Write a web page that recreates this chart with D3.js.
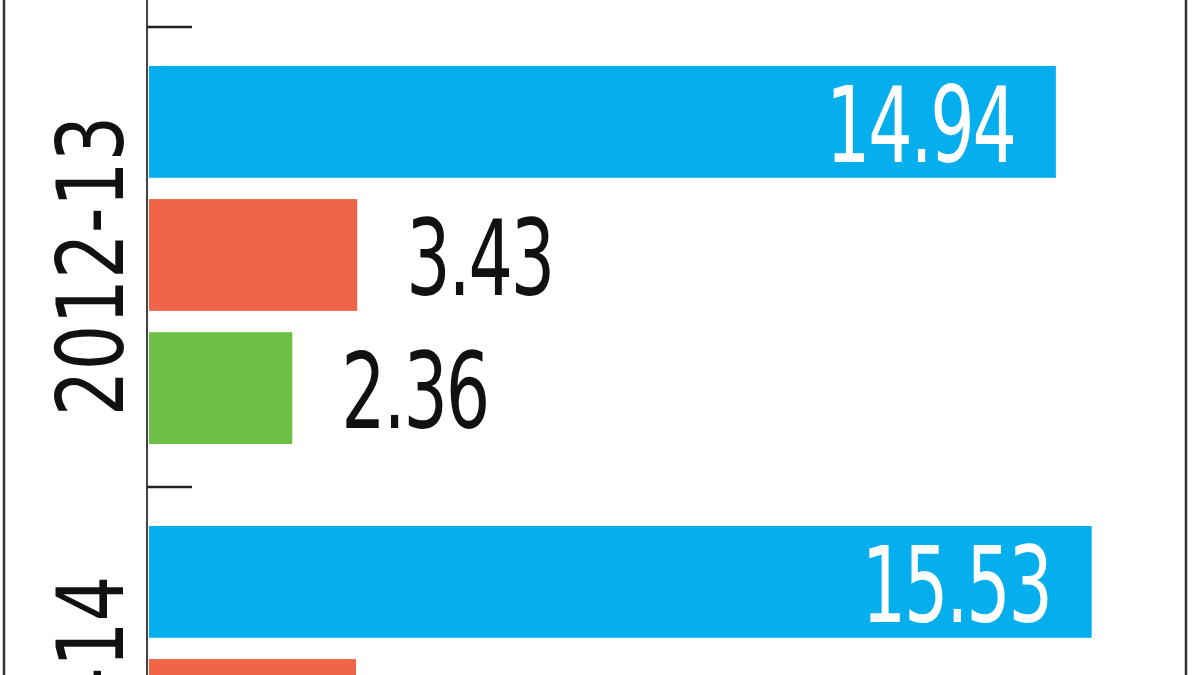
<!DOCTYPE html>
<html>
<head>
<meta charset="utf-8">
<script src="https://cdn.jsdelivr.net/npm/d3@7"></script>
<style>
  html, body { margin: 0; padding: 0; background: #fff; }
  svg { display: block; }
</style>
</head>
<body>
<svg id="chart" width="1200" height="675"></svg>
<script>
// ---- data ----
const categories = ["2012-13", "2013-14"];
const seriesNames = ["s1", "s2", "s3"];
const seriesColors = ["#05aeed", "#f0644a", "#6cbe45"];
const values2012 = [14.94, 3.43, 2.36];
const values2013 = [15.53, 3.41, 2.30];
const allValues = [values2012, values2013];

const W = 1200, H = 675;
const svg = d3.select("#chart");
const FONT = "'Liberation Sans Narrow', 'DejaVu Sans Condensed', 'Liberation Sans', sans-serif";

// scales
const x = d3.scaleLinear().domain([0, 1]).range([149, 149 + 60.7]);
const y = d3.scaleBand().domain(categories).range([27, 27 + 460 * categories.length]).padding(0);
const ys = d3.scaleBand().domain(seriesNames).range([39, 417]).paddingInner(0.16).paddingOuter(0);

// frame lines
svg.append("line").attr("x1", 4).attr("x2", 4).attr("y1", 0).attr("y2", H)
  .attr("stroke", "#333").attr("stroke-width", 2.5);
svg.append("line").attr("x1", 1186).attr("x2", 1186).attr("y1", 0).attr("y2", H)
  .attr("stroke", "#333").attr("stroke-width", 2.5);

// groups
const groups = svg.selectAll("g.cat").data(categories).join("g")
  .attr("class", "cat")
  .attr("transform", d => `translate(0,${y(d)})`);

groups.each(function(cat, ci) {
  const g = d3.select(this);
  const vals = allValues[ci];
  g.selectAll("rect").data(seriesNames).join("rect")
    .attr("x", x(0))
    .attr("y", s => ys(s))
    .attr("width", (s, i) => x(vals[i]) - x(0))
    .attr("height", ys.bandwidth())
    .attr("fill", (s, i) => seriesColors[i]);

  g.selectAll("text.val").data(seriesNames).join("text")
    .attr("class", "val")
    .attr("transform", (s, i) => {
      const tx = i === 0 ? x(vals[i]) - 41 : x(vals[i]) + 49;
      const ty = ys(s) + ys.bandwidth() / 2;
      return `translate(${tx},${ty}) scale(0.74,1)`;
    })
    .attr("dy", "0.38em")
    .attr("text-anchor", (s, i) => i === 0 ? "end" : "start")
    .attr("fill", (s, i) => i === 0 ? "#fff" : "#111")
    .attr("font-family", FONT)
    .attr("font-size", 105)
    .attr("letter-spacing", -3)
    .text((s, i) => vals[i].toFixed(2));

  // category label
  g.append("text")
    .attr("transform", `translate(123,${y.bandwidth() / 2 + 9}) rotate(-90) scale(0.86,1)`)
    .attr("text-anchor", "middle")
    .attr("fill", "#111")
    .attr("font-family", FONT)
    .attr("font-size", 93)
    .text(cat);
});

// axis line
svg.append("line").attr("x1", 147).attr("x2", 147).attr("y1", 0).attr("y2", H)
  .attr("stroke", "#444").attr("stroke-width", 2);

// separator ticks at band boundaries
svg.selectAll("line.tick").data(categories).join("line")
  .attr("class", "tick")
  .attr("x1", 147).attr("x2", 192)
  .attr("y1", d => y(d)).attr("y2", d => y(d))
  .attr("stroke", "#222").attr("stroke-width", 2.5);
</script>
</body>
</html>
